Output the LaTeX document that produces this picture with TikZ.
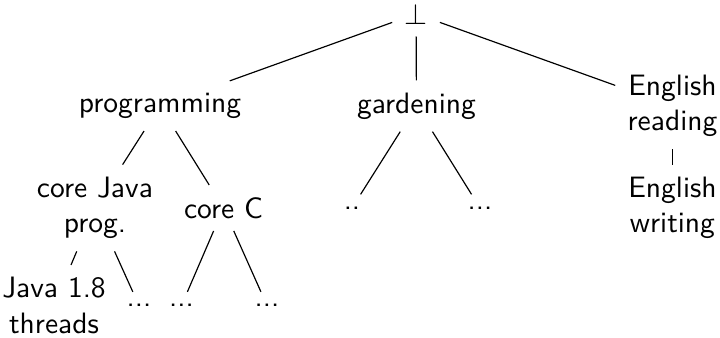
\documentclass[tikz,border=0pt]{standalone}
\renewcommand{\familydefault}{\sfdefault}
\begin{document}
\begin{tikzpicture}[every node/.style={align=center, inner sep=4pt}]
  \useasboundingbox (0,0) rectangle (8.575,-4.014);
  % root and first level
  \node (bot) at (4.955,-0.165) {$\bot$};
  \node (prog) at (1.906,-1.262) {programming};
  \node (garden) at (4.960,-1.262) {gardening};
  \node (read) at (8.009,-1.262) {English\\reading};
  % second level
  \node (java) at (1.131,-2.477) {core Java\\prog.};
  \node (cc) at (2.662,-2.477) {core C};
  \node (gdots1) at (4.192,-2.477) {..};
  \node (gdots2) at (5.717,-2.477) {...};
  \node (write) at (8.009,-2.477) {English\\writing};
  % third level
  \node (threads) at (0.643,-3.638) {Java 1.8\\threads};
  \node (jdots) at (1.655,-3.638) {...};
  \node (cdots1) at (2.162,-3.638) {...};
  \node (cdots2) at (3.180,-3.638) {...};
  \draw (bot) -- (prog);
  \draw (bot) -- (garden);
  \draw (bot) -- (read);
  \draw (prog) -- (java);
  \draw (prog) -- (cc);
  \draw (garden) -- (gdots1);
  \draw (garden) -- (gdots2);
  \draw (read) -- (write);
  \draw (java) -- (threads);
  \draw (java) -- (jdots);
  \draw (cc) -- (cdots1);
  \draw (cc) -- (cdots2);
\end{tikzpicture}
\end{document}
